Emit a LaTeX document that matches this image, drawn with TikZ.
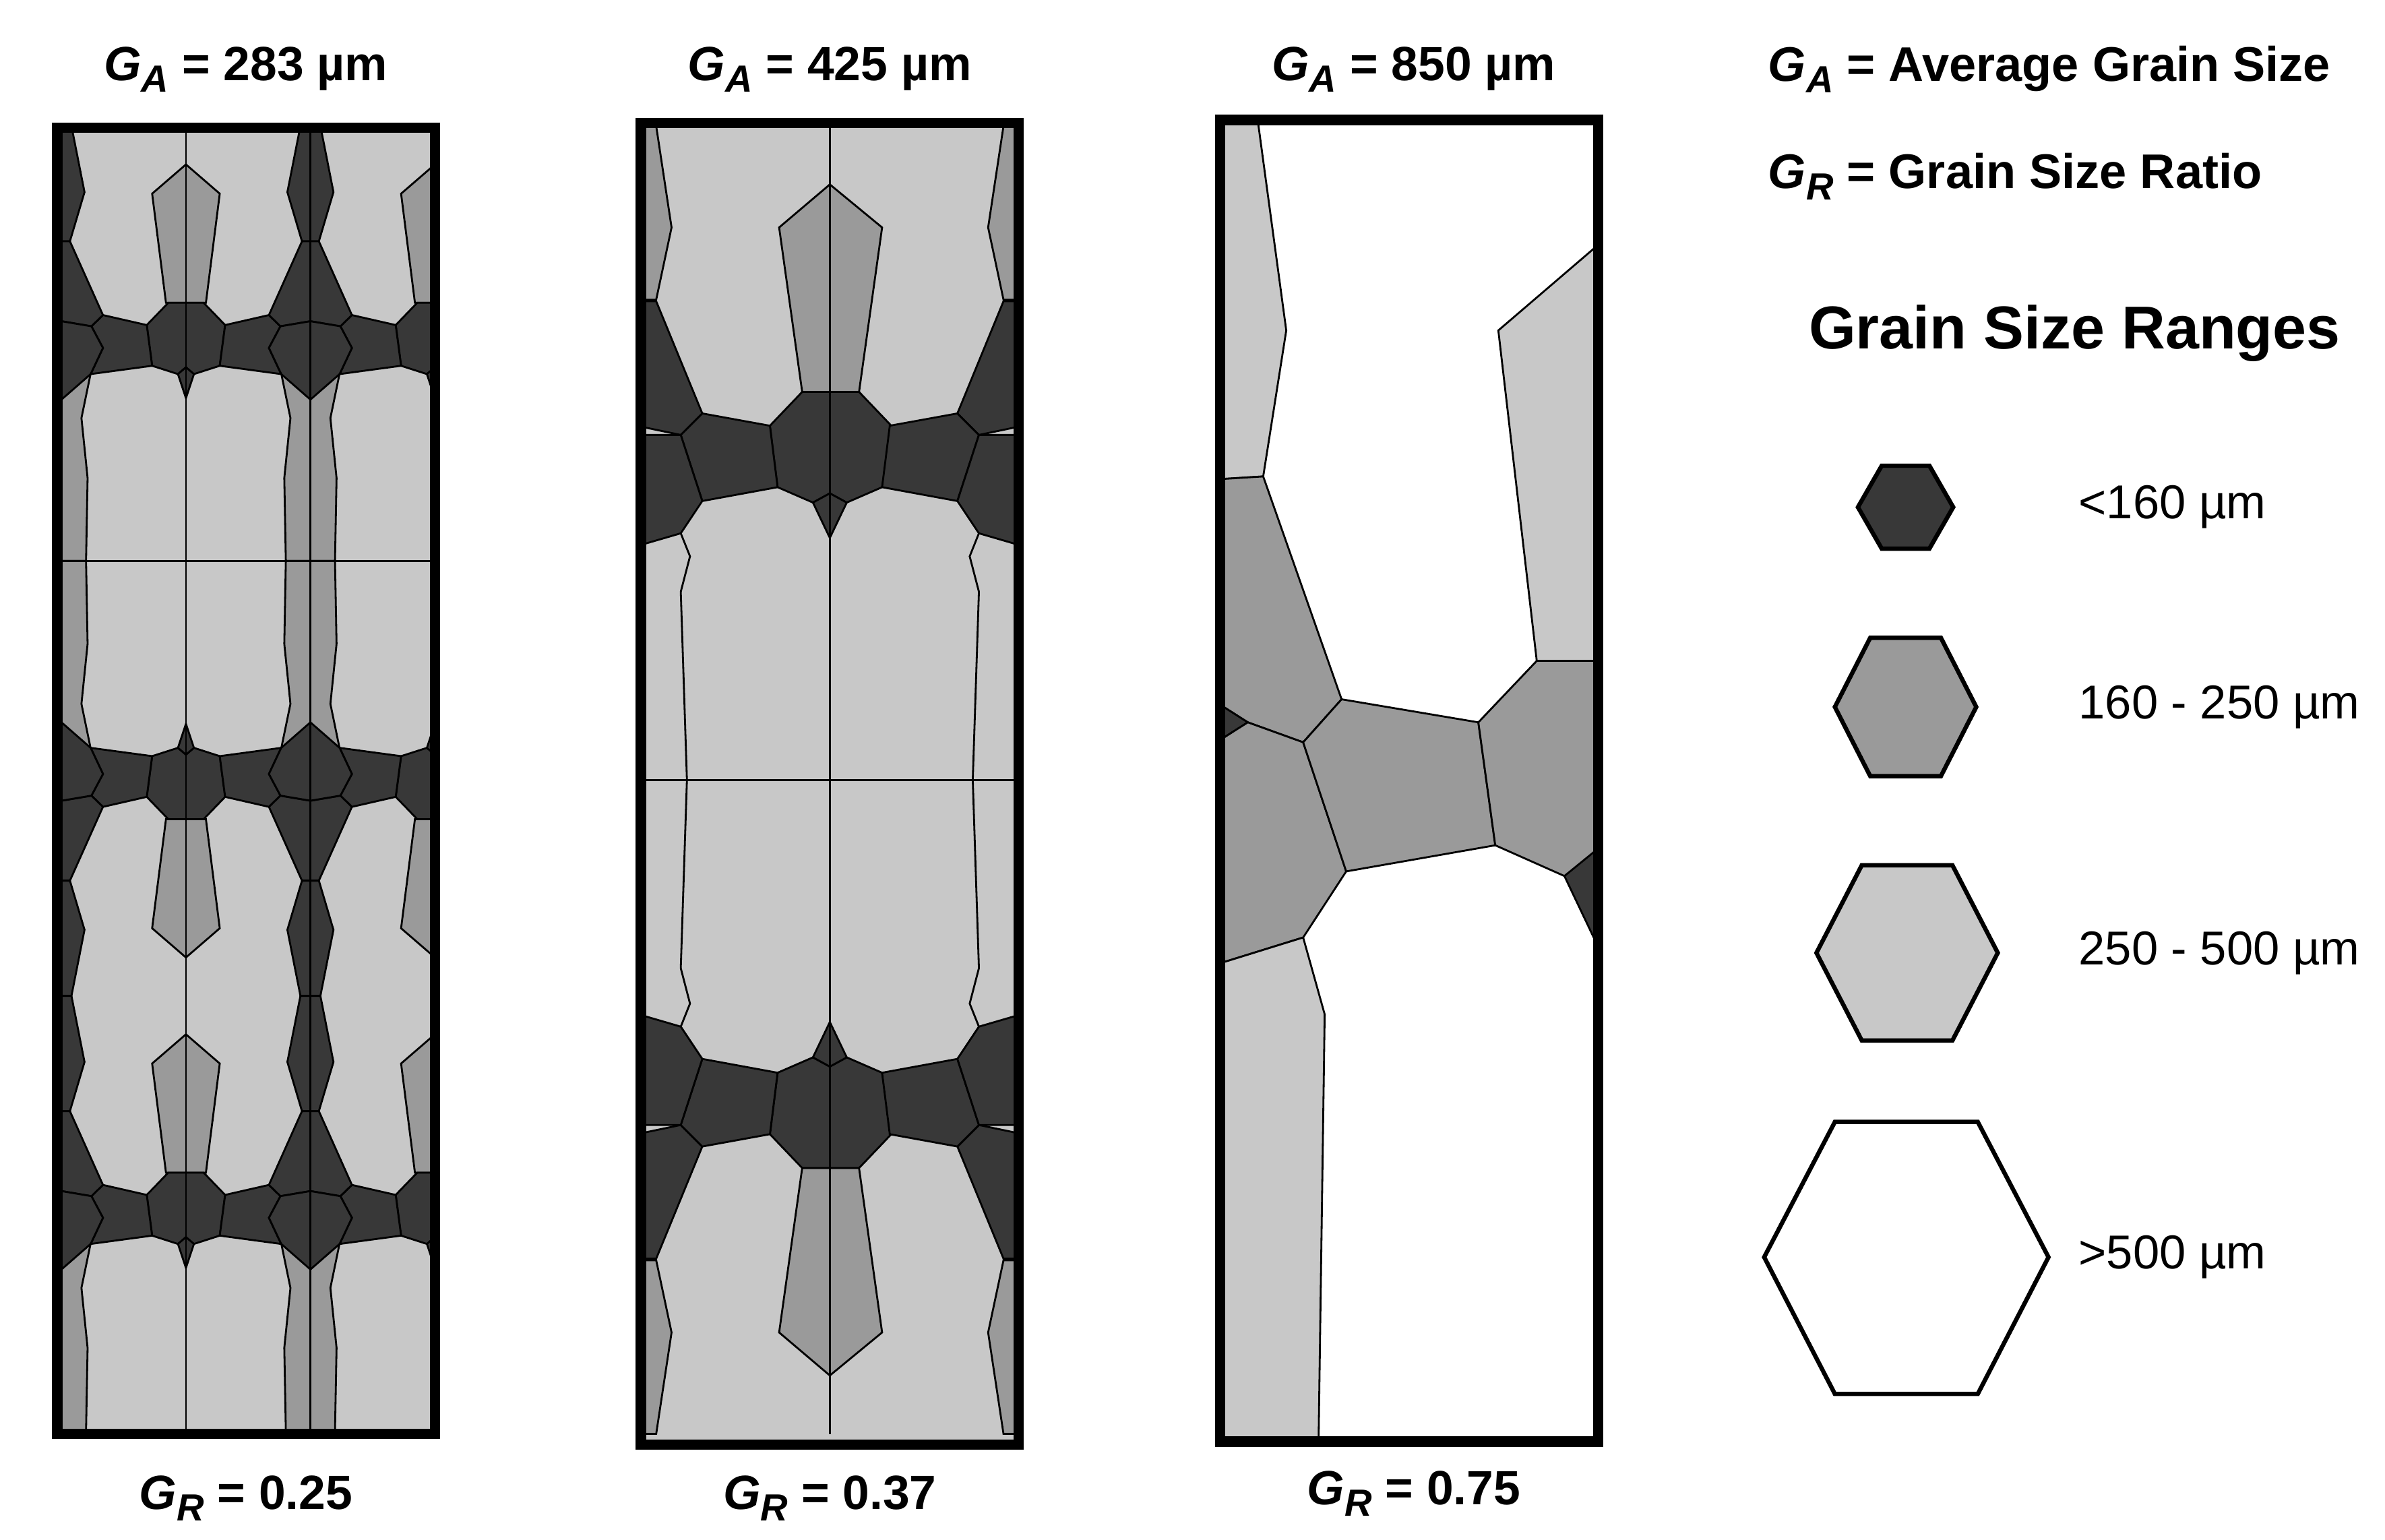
\documentclass[tikz,border=0pt]{standalone}
\usepackage{fontspec}
\setmainfont{Liberation Sans}
\definecolor{dk}{HTML}{383838}
\definecolor{md}{HTML}{9A9A9A}
\definecolor{lt}{HTML}{C8C8C8}
\newcommand{\GA}[1]{\textit{G}\raisebox{-0.45ex}{\scriptsize\itshape #1}}
\begin{document}
\begin{tikzpicture}[x=0.01cm,y=-0.01cm,
  gl/.style={line width=0.35pt,draw=black},
  dkf/.style={gl,fill=dk},
  mdf/.style={gl,fill=md},
  ltf/.style={gl,fill=lt},
  frame/.style={line width=1.9pt,draw=black},
  ttl/.style={font=\fontsize{8.9}{11}\selectfont\bfseries},
  lab/.style={font=\fontsize{8.8}{11}\selectfont,anchor=west,inner sep=0pt}]
\useasboundingbox (0,0) rectangle (1552,1002);
% ---------- panel 1 ----------
\newcommand{\kitemod}[1]{%
 \begin{scope}[xshift=#1*0.01cm]
  \filldraw[mdf] (0,107)--(-22,126)--(-13,197)--(13,197)--(22,126)--cycle;
  \filldraw[dkf] (-11.5,197)--(11.5,197)--(25.5,211.5)--(22,238)--(5.2,243.4)--(0,239)--(-5.2,243.4)--(-22,238)--(-25.5,211.5)--cycle;
  \filldraw[dkf] (-5.2,243.4)--(0,239)--(5.2,243.4)--(0,259)--cycle;
  \filldraw[dkf] (25.5,211.5)--(54,205)--(61.5,212.3)--(54,226.4)--(62,243.4)--(22,238)--cycle;
  \filldraw[dkf] (-25.5,211.5)--(-54,205)--(-61.5,212.3)--(-54,226.4)--(-62,243.4)--(-22,238)--cycle;
  \draw[gl] (0,82)--(0,365);
 \end{scope}}
\newcommand{\darkmod}[1]{%
 \begin{scope}[xshift=#1*0.01cm]
  \filldraw[mdf] (-19,243)--(-13,272)--(-17,311)--(-16,365)--(16,365)--(17,311)--(13,272)--(19,243)--cycle;
  \filldraw[dkf] (-6.5,82)--(6.5,82)--(15,125)--(5.5,157)--(-5.5,157)--(-15,125)--cycle;
  \filldraw[dkf] (-5.5,157)--(5.5,157)--(27,205)--(19.5,212.3)--(0,209)--(-19.5,212.3)--(-27,205)--cycle;
  \filldraw[dkf] (-19.5,212.3)--(0,209)--(19.5,212.3)--(27,226.4)--(19,243.4)--(0,260)--(-19,243.4)--(-27,226.4)--cycle;
  \draw[gl] (0,82)--(0,365);
 \end{scope}}
\newcommand{\unitone}{\kitemod{-41}\kitemod{121}\kitemod{283}\darkmod{40}\darkmod{202}\draw[gl] (30,365)--(290,365);}
\begin{scope}
 \clip (39,85) rectangle (281,931);
 \fill[lt] (39,85) rectangle (281,931);
 \unitone
 \begin{scope}[shift={(0,730)},yscale=-1]\unitone\end{scope}
 \begin{scope}[shift={(0,566)}]\unitone\end{scope}
\end{scope}
\draw[frame] (37,83) rectangle (283,933);
% ---------- panel 2 ----------
\newcommand{\halftwo}{%
  \filldraw[mdf] (419,82)--(427,82)--(437,148)--(427,195)--(419,195)--cycle;
  \filldraw[dkf] (419,196)--(427,196)--(457,269)--(443,283)--(419,278)--cycle;
  \filldraw[dkf] (457,269)--(501,277)--(506,317)--(457,326)--(443,283)--cycle;
  \filldraw[dkf] (419,283)--(443,283)--(457,326)--(443,347)--(419,354)--cycle;
  \draw[gl] (443,347)--(449,362)--(443,385)--(447,507.5);}
\newcommand{\unittwo}{%
  \filldraw[mdf] (540,120)--(507,148)--(522,255)--(559,255)--(574,148)--cycle;
  \filldraw[dkf] (522,255)--(559,255)--(580,277)--(574,317)--(551,327)--(540,321)--(529,327)--(506,317)--(501,277)--cycle;
  \filldraw[dkf] (529,327)--(540,321)--(551,327)--(540,350)--cycle;
  \halftwo
  \begin{scope}[shift={(1080,0)},xscale=-1]\halftwo\end{scope}
  \draw[gl] (540,82)--(540,507.5);}
\begin{scope}
 \clip (419,82) rectangle (661,938);
 \fill[lt] (419,82) rectangle (661,938);
 \unittwo
 \begin{scope}[shift={(0,1015)},yscale=-1]\unittwo\end{scope}
 \draw[gl] (419,507.5)--(661,507.5);
\end{scope}
\draw[frame] (417,80) rectangle (663,940);
% ---------- panel 3 ----------
\begin{scope}
 \clip (796,80) rectangle (1038,936);
 \fill[white] (796,80) rectangle (1038,936);
 \filldraw[ltf] (790,75)--(818,75)--(837,215)--(822,310)--(790,312)--cycle;
 \filldraw[ltf] (1045,155)--(975,215)--(1000,430)--(1045,430)--cycle;
 \filldraw[mdf] (790,312)--(822,310)--(873,455)--(848,483)--(812,470)--(790,456)--cycle;
 \filldraw[dkf] (790,456)--(812,470)--(790,484)--cycle;
 \filldraw[mdf] (790,484)--(812,470)--(848,483)--(876,567)--(848,610)--(790,628)--cycle;
 \filldraw[mdf] (848,483)--(873,455)--(962,470)--(973,550)--(876,567)--cycle;
 \filldraw[mdf] (962,470)--(1000,430)--(1045,430)--(1045,560)--(1018,570)--(973,550)--cycle;
 \filldraw[dkf] (1018,570)--(1045,548)--(1045,620)--(1038,612)--cycle;
 \filldraw[ltf] (790,628)--(848,610)--(862,660)--(858,940)--(790,940)--cycle;
\end{scope}
\draw[frame] (794,78) rectangle (1040,938);
% ---------- titles ----------
\node[ttl] (t1) at (160,45) {\GA{A} = 283 µm};
\node[ttl] (t2) at (540,45) {\GA{A} = 425 µm};
\node[ttl] (t3) at (920,45) {\GA{A} = 850 µm};
\node[ttl] (b1) at (160,975) {\GA{R} = 0.25};
\node[ttl] (b2) at (540,975) {\GA{R} = 0.37};
\node[ttl] (b3) at (920,972) {\GA{R} = 0.75};
% ---------- legend ----------
\node[ttl,anchor=west,inner sep=0pt,font=\fontsize{9}{11}\selectfont\bfseries] (l1) at (1150,45) {\GA{A} = Average Grain Size};
\node[ttl,anchor=west,inner sep=0pt,font=\fontsize{9}{11}\selectfont\bfseries] (l2) at (1150,115) {\GA{R} = Grain Size Ratio};
\node[font=\fontsize{11.2}{14}\selectfont\bfseries] (gsr) at (1350,217) {Grain Size Ranges};
\filldraw[line width=0.8pt,fill=dk] (1209,330)--(1224.5,303)--(1255.5,303)--(1271,330)--(1255.5,357)--(1224.5,357)--cycle;
\filldraw[line width=0.8pt,fill=md] (1194,460)--(1217,415)--(1263,415)--(1286,460)--(1263,505)--(1217,505)--cycle;
\filldraw[line width=0.8pt,fill=lt] (1182,620)--(1211.5,563)--(1270.5,563)--(1300,620)--(1270.5,677)--(1211.5,677)--cycle;
\filldraw[line width=0.8pt,fill=white] (1148,818)--(1194,730)--(1287,730)--(1333,818)--(1287,907)--(1194,907)--cycle;
\node[lab] (r1) at (1352,330) {<160 µm};
\node[lab] (r2) at (1352,460) {160 - 250 µm};
\node[lab] (r3) at (1352,620) {250 - 500 µm};
\node[lab] (r4) at (1352,818) {>500 µm};
\end{tikzpicture}
\end{document}
